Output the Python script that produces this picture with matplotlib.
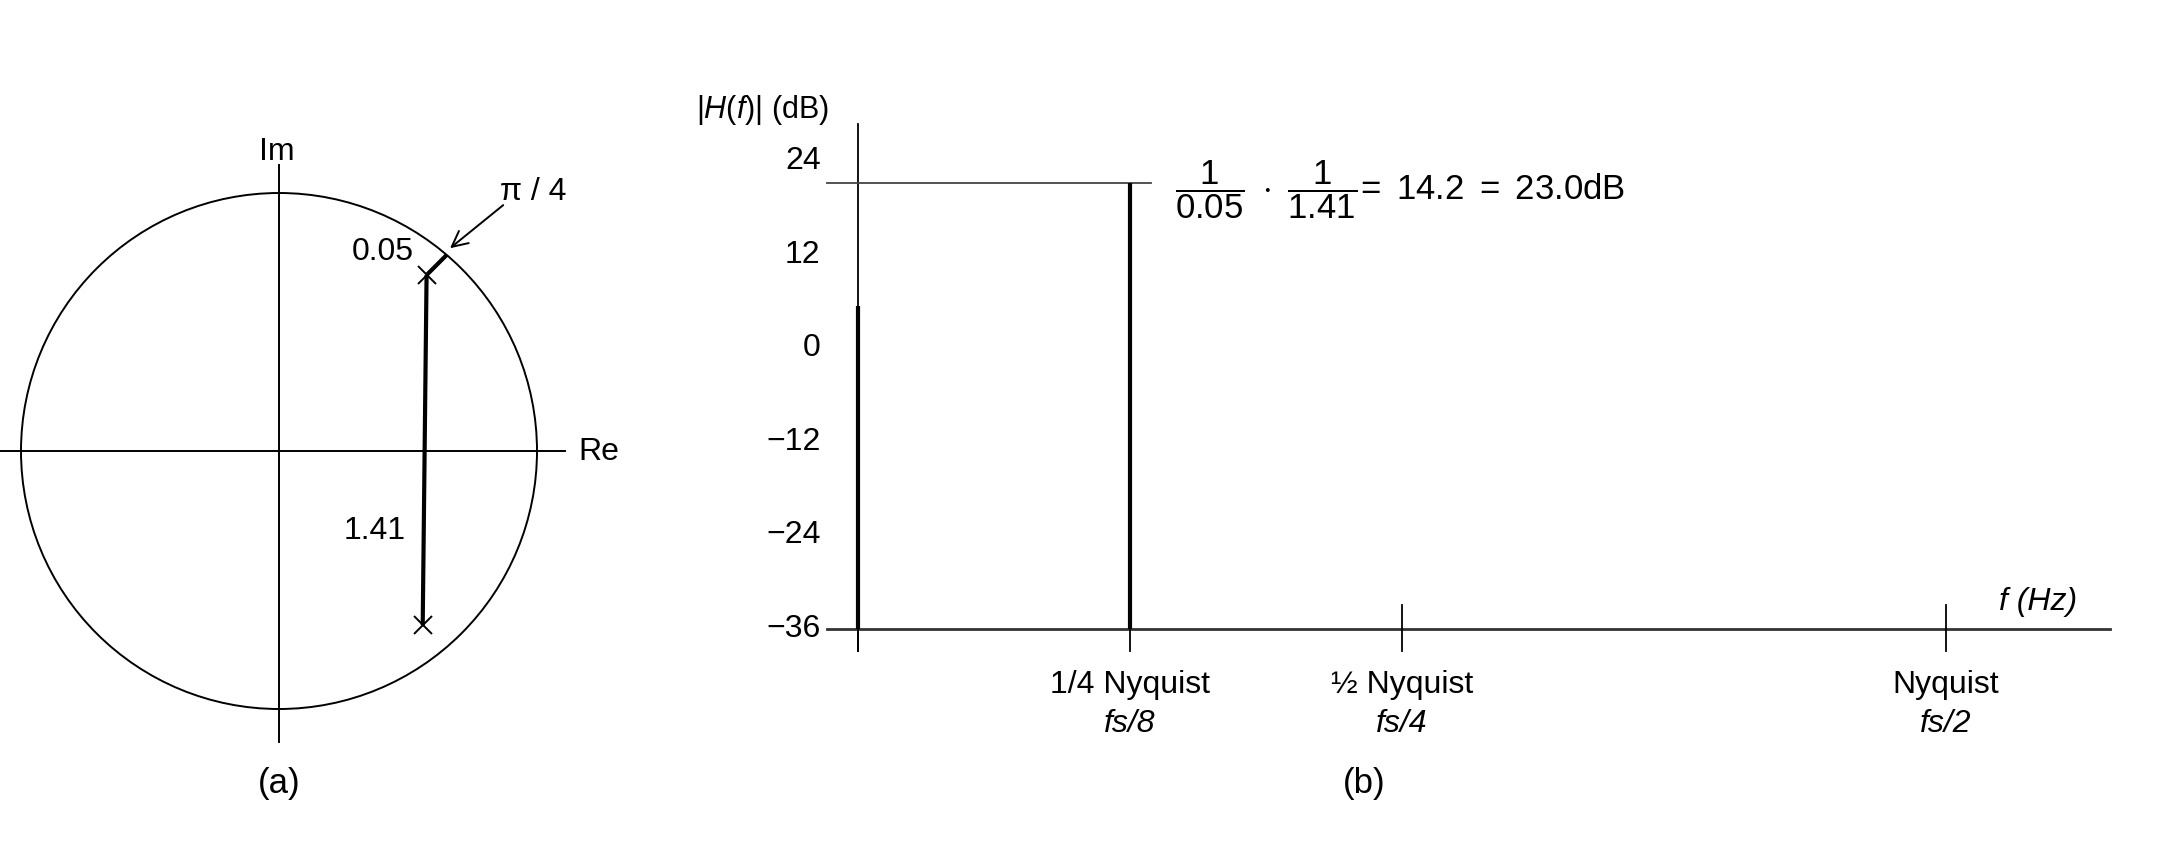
import numpy as np
import matplotlib
matplotlib.use('Agg')
from matplotlib import pyplot as plt
from matplotlib.patches import Circle

plt.rcParams['font.family'] = ['Liberation Sans', 'DejaVu Sans']
plt.rcParams['mathtext.fontset'] = 'custom'
plt.rcParams['mathtext.rm'] = 'Liberation Sans'
plt.rcParams['mathtext.it'] = 'Liberation Sans:italic'
plt.rcParams['mathtext.bf'] = 'Liberation Sans:bold'

# (a) pole positions, unit-circle coordinates
pole_re = [0.572, 0.557]
pole_im = [0.682, -0.674]
# point where the 0.05 segment meets the unit circle
edge_re = 0.650
edge_im = 0.760

# (b) spectrum, frequency in units of fs
freq = [0.0, 0.125]
mag_db = [5.4, 21.2]
ytick_vals = [24, 12, 0, -12, -24, -36]
ytick_labels = ['24', '12', '0', '\u221212', '\u221224', '\u221236']
xtick_vals = [0.0, 0.125, 0.25, 0.5]
xtick_names = ['', '1/4 Nyquist', '\u00bd Nyquist', 'Nyquist']
xtick_rates = ['', 'fs/8', 'fs/4', 'fs/2']

fs_txt = 23
W, H = 2162, 848
fig = plt.figure(figsize=(W / 100, H / 100), dpi=100)

# ---------- (a) pole plot ----------
ax_a = fig.add_axes([0, 0, 700 / W, 1])
ax_a.set_xlim(-279 / 258, (700 - 279) / 258)
ax_a.set_ylim((451 - 848) / 258, 451 / 258)
ax_a.axis('off')

ax_a.add_patch(Circle((0, 0), 1, fill=False, color='black', lw=1.4))
ax_a.plot([-1.09, 1.109], [0, 0], color='black', lw=1.4)
ax_a.plot([0, 0], [-1.128, 1.109], color='black', lw=1.4)
ax_a.text(-0.008, 1.16, 'Im', fontsize=fs_txt, ha='center', va='center')
ax_a.text(1.16, -0.004, 'Re', fontsize=fs_txt, ha='left', va='center')

# thick segments: pole to pole, pole to circle
ax_a.plot(pole_re, pole_im, color='black', lw=3.0, solid_capstyle='butt')
ax_a.plot([pole_re[0], edge_re], [pole_im[0], edge_im], color='black', lw=3.0,
          solid_capstyle='butt')
ax_a.plot(pole_re, pole_im, linestyle='none', marker='x', color='black',
          markersize=13, markeredgewidth=1.4)

ax_a.annotate('', xy=(0.663, 0.786), xytext=(0.869, 0.953),
              arrowprops=dict(arrowstyle='->', color='black', lw=1.4,
                              mutation_scale=28, shrinkA=0, shrinkB=0))
ax_a.text(0.984, 1.005, '\u03c0 / 4', fontsize=fs_txt, ha='center', va='center')
ax_a.text(0.403, 0.771, '0.05', fontsize=fs_txt, ha='center', va='center')
ax_a.text(0.372, -0.310, '1.41', fontsize=fs_txt, ha='center', va='center')
ax_a.text(0.0, -1.287, '(a)', fontsize=fs_txt + 2, ha='center', va='center')

# ---------- (b) magnitude response ----------
x0, x1 = -0.08, 0.59
y0, y1 = -50, 40
px_x0 = 857.7 + 2175.8 * x0
px_x1 = 857.7 + 2175.8 * x1
px_ytop = 161.3 - (y1 - 24) * 7.79
px_ybot = 628.8 + (-36 - y0) * 7.79
ax_b = fig.add_axes([px_x0 / W, 1 - px_ybot / H,
                     (px_x1 - px_x0) / W, (px_ybot - px_ytop) / H])
ax_b.set_xlim(x0, x1)
ax_b.set_ylim(y0, y1)
ax_b.axis('off')

# axes lines
ax_b.plot([-0.014, 0.5755], [-36, -36], color='#333333', lw=2.0)
ax_b.plot([0, 0], [-38.8, 28.8], color='black', lw=1.3)
# reference level line
ax_b.plot([-0.014, 0.135], [mag_db[1], mag_db[1]], color='#444444', lw=1.3)

# ticks
for xv in xtick_vals:
    ax_b.plot([xv, xv], [-33.0, -38.9], color='black', lw=1.3)

# stems
ax_b.vlines(freq, -36, mag_db, color='black', lw=3.0)

for yv, lab in zip(ytick_vals, ytick_labels):
    ax_b.text(-0.017, yv, lab, fontsize=fs_txt, ha='right', va='center')

for xv, n1, n2 in zip(xtick_vals, xtick_names, xtick_rates):
    ax_b.text(xv, -43.2, n1, fontsize=fs_txt, ha='center', va='center')
    ax_b.text(xv, -48.2, n2, fontsize=fs_txt, ha='center', va='center',
              style='italic')

ax_b.text(-0.013, 30.6, r'$\left|\mathit{H(f)}\right|$ (dB)', fontsize=22,
          ha='right', va='center')
ax_b.text(0.5425, -32.6, 'f (Hz)', fontsize=fs_txt, ha='center', va='center',
          style='italic')
ax_b.text(0.146, 20.4,
          r'$\dfrac{\ 1\ }{0.05}\ \cdot\ \dfrac{\ 1\ }{1.41}\!=\ 14.2\ =\ 23.0\mathrm{dB}$',
          fontsize=fs_txt + 2, ha='left', va='center')
ax_b.text(0.233, -55.8, '(b)', fontsize=fs_txt + 2, ha='center', va='center')

fig.savefig('out.png', dpi=100)
